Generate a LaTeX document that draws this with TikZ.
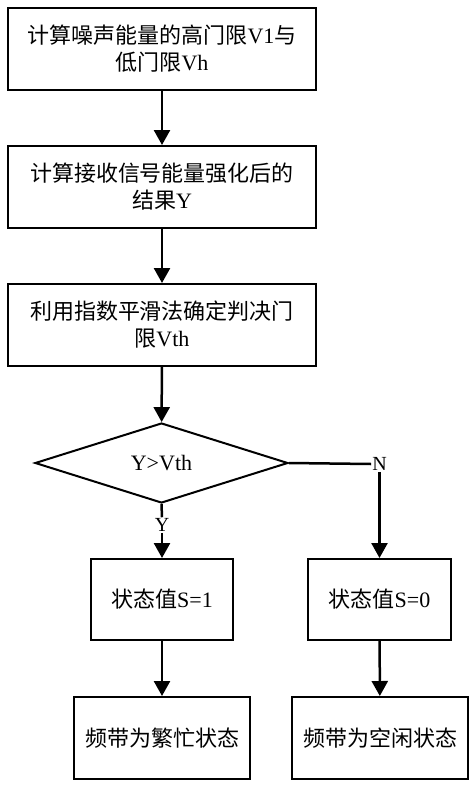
\documentclass[tikz,border=0pt]{standalone}
\usepackage{fontspec}
\setmainfont{Noto Sans CJK SC}
\newfontfamily\latfont{Liberation Serif}
\newcommand{\lat}[1]{{\latfont #1}}
\usetikzlibrary{shapes.geometric,arrows.meta}

\tikzset{
	box/.style={draw,line width=2pt,align=center,inner sep=0pt,font=\fontsize{22}{27}\selectfont},
	flow/.style={line width=2.5pt,-{Triangle[width=16pt,length=15pt]}},
	plain/.style={line width=2.5pt},
	lbl/.style={inner sep=1pt,font=\fontsize{20}{24}\selectfont\latfont}
}

\begin{document}
\begin{tikzpicture} [x=1pt,y=-1pt]
			\useasboundingbox (0,0) rectangle (474,787);
			
			\node[box,minimum width=308pt,minimum height=82pt] (noise) at (162,49) {计算噪声能量的高门限\lat{V1}与\\低门限\lat{Vh}};
			\node[box,minimum width=308pt,minimum height=82pt] (recv) at (162,187) {计算接收信号能量强化后的\\结果\lat{Y}};
			\node[box,minimum width=308pt,minimum height=82pt] (thr) at (162,325) {利用指数平滑法确定判决门\\限\lat{Vth}};
			\node[box,diamond,aspect=3.16,minimum width=253pt,minimum height=80pt] (cmp) at (161.5,463) {\lat{Y>Vth}};
			
			\node[box,minimum width=142pt,minimum height=81pt] (sone) at (162,599.5) {状态值\lat{S=1}};
			\node[box,minimum width=143pt,minimum height=81pt] (szero) at (379.5,599.5) {状态值\lat{S=0}};
			\node[box,minimum width=176pt,minimum height=82pt] (busy) at (162,738) {频带为繁忙状态};
			\node[box,minimum width=176pt,minimum height=82pt] (idle) at (380,738) {频带为空闲状态};
			
			\node[lbl] (ylab) at (162,525) {Y};
			\node[lbl] (nlab) at (379.5,464) {N};
			
			\draw[flow] (noise) -- (recv);
			\draw[flow] (recv) -- (thr);
			\draw[flow] (thr) -- (cmp);
			
			\draw[plain] (cmp.south) -- (ylab.north);
			\draw[flow] (ylab.south) -- (sone.north);
			\draw[plain] (cmp.east) -- (nlab.west);
			\draw[flow] (nlab.south) -- (szero.north);
			
			\draw[flow] (sone) -- (busy);
			\draw[flow] (szero) -- (idle);
\end{tikzpicture}
\end{document}
